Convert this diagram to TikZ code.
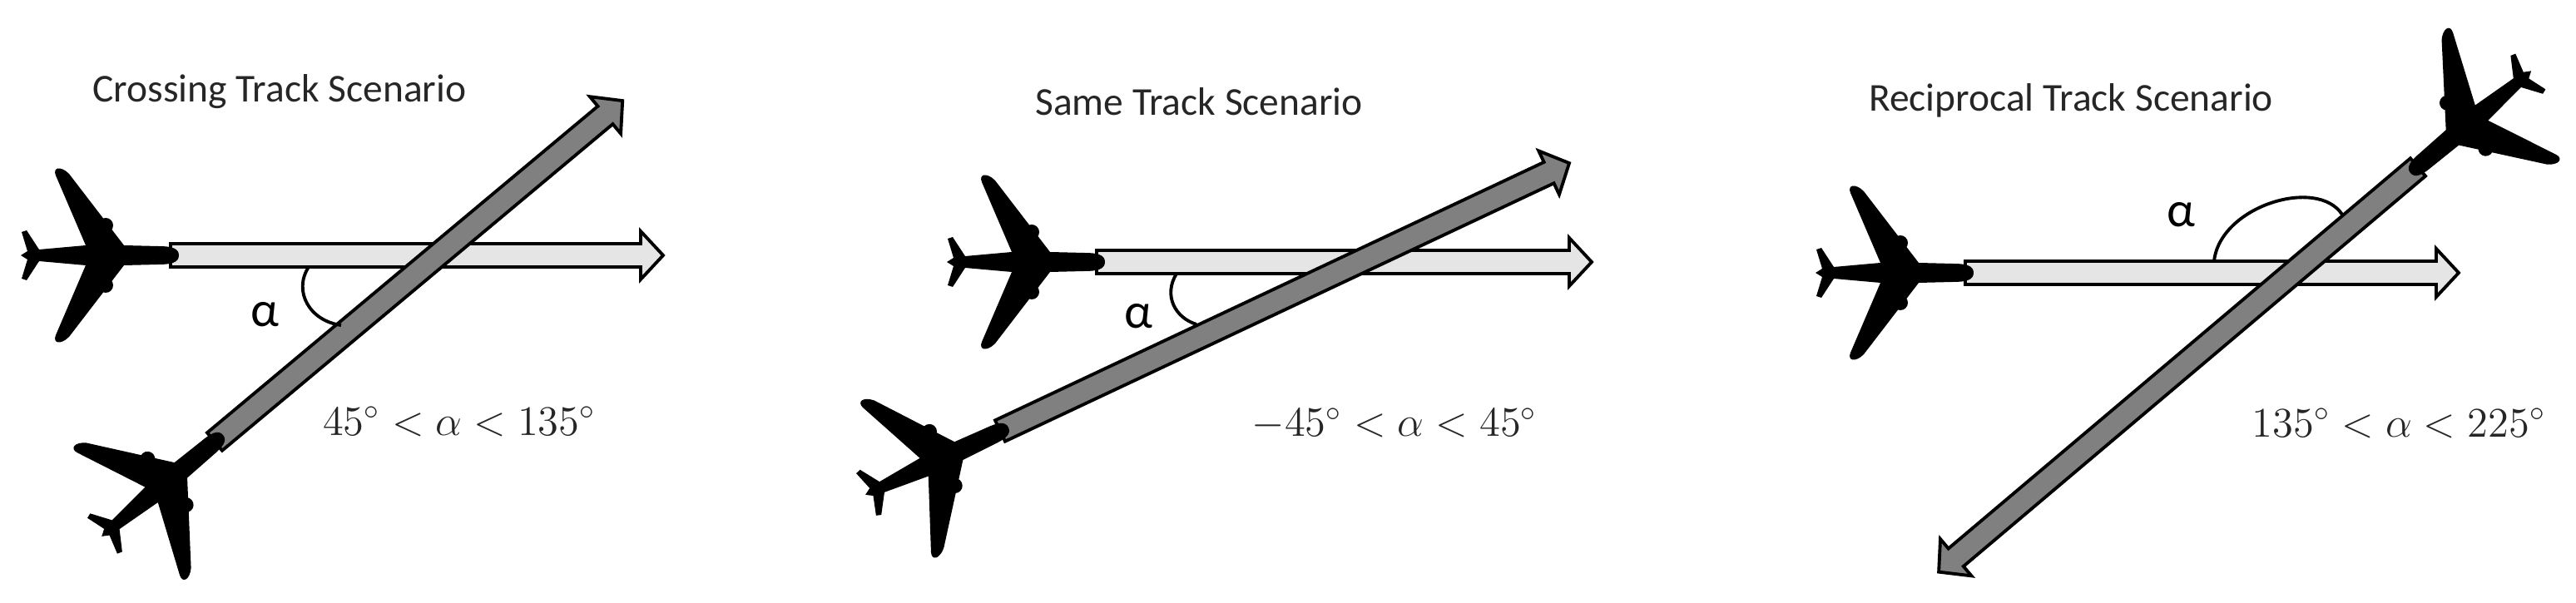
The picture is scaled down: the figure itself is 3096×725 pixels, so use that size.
\documentclass[tikz,border=0pt]{standalone}
\usepackage{fontspec}
\setmainfont{Carlito}
\begin{document}
\begin{tikzpicture}[x=0.01cm,y=-0.01cm,
  title/.style={font=\fontsize{13.5}{16}\selectfont, text=black!85, inner sep=0},
  alab/.style={font=\fontsize{17}{20}\selectfont, inner sep=0},
  rng/.style={font=\fontsize{14}{17}\selectfont, text=black!85, inner sep=0},
  track/.style={draw=black, line width=1.1pt, line join=miter},
  own/.style={track, fill=black!10},
  intr/.style={track, fill=black!50},
  anglearc/.style={draw=black, line width=1.1pt},
  plane/.pic={
    \fill[black] (0,0) .. controls (0,-9) and (-10,-11) .. (-25,-11) -- (-66,-12)
      -- (-132,-98) .. controls (-142,-108) and (-152,-106) .. (-148,-96)
      -- (-112,-12) -- (-168,-7) -- (-183,-30) -- (-189,-28) -- (-182,-5) -- (-190,0)
      -- (-182,5) -- (-189,28) -- (-183,30) -- (-168,7) -- (-112,12)
      -- (-148,96) .. controls (-152,106) and (-142,108) .. (-132,98)
      -- (-66,12) -- (-25,11) .. controls (-10,11) and (0,9) .. (0,0) -- cycle;
    \fill[black] (-88,-36) circle (9) (-88,36) circle (9);
  }]
\useasboundingbox (0,0) rectangle (3096,725);
\newcommand\trk[5]{% style, x, y, angle, length
  \begin{scope}[shift={(#2,#3)}, rotate=#4]
    \path[#1] (0,-14) -- (#5-27,-14) -- (#5-27,-29) -- (#5,0) -- (#5-27,29)
      -- (#5-27,14) -- (0,14) -- cycle;
  \end{scope}}
% ---------- Panel 1 ----------
\node[title] (t1) at (336,110) {Crossing Track Scenario};
\trk{own}{205}{307}{0}{592}
\trk{intr}{258}{531}{39.9}{639}
\pic[rotate=0] at (215,307) {plane};
\pic[rotate=39.9] at (268,523) {plane};
\draw[anglearc] (371,321) .. controls (352,350) and (372,386) .. (410,391);
\node[alab] (a1) at (318,378) {α};
\node[rng] (r1) at (552,507) {$45^\circ < \alpha < 135^\circ$};
% ---------- Panel 2 ----------
\node[title] (t2) at (1441,122) {Same Track Scenario};
\trk{own}{1318}{315}{0}{595}
\trk{intr}{1202}{518}{25.2}{756}
\pic[rotate=0] at (1328,315) {plane};
\pic[rotate=25.2] at (1212,514) {plane};
\draw[anglearc] (1414,329) .. controls (1398,355) and (1412,382) .. (1438,390);
\node[alab] (a2) at (1368,380) {α};
\node[rng] (r2) at (1676,510) {$-45^\circ < \alpha < 45^\circ$};
% ---------- Panel 3 ----------
\node[title] (t3) at (2489,121) {Reciprocal Track Scenario};
\trk{own}{2362}{328}{0}{593}
\trk{intr}{2906}{201}{220.2}{754}
\pic[rotate=0] at (2372,328) {plane};
\pic[rotate=220.2] at (2897,208) {plane};
\draw[anglearc] (2661,314) .. controls (2668,248) and (2785,212) .. (2815,258);
\node[alab] (a3) at (2621,258) {α};
\node[rng] (r3) at (2883,509) {$135^\circ < \alpha < 225^\circ$};
\end{tikzpicture}
\end{document}
